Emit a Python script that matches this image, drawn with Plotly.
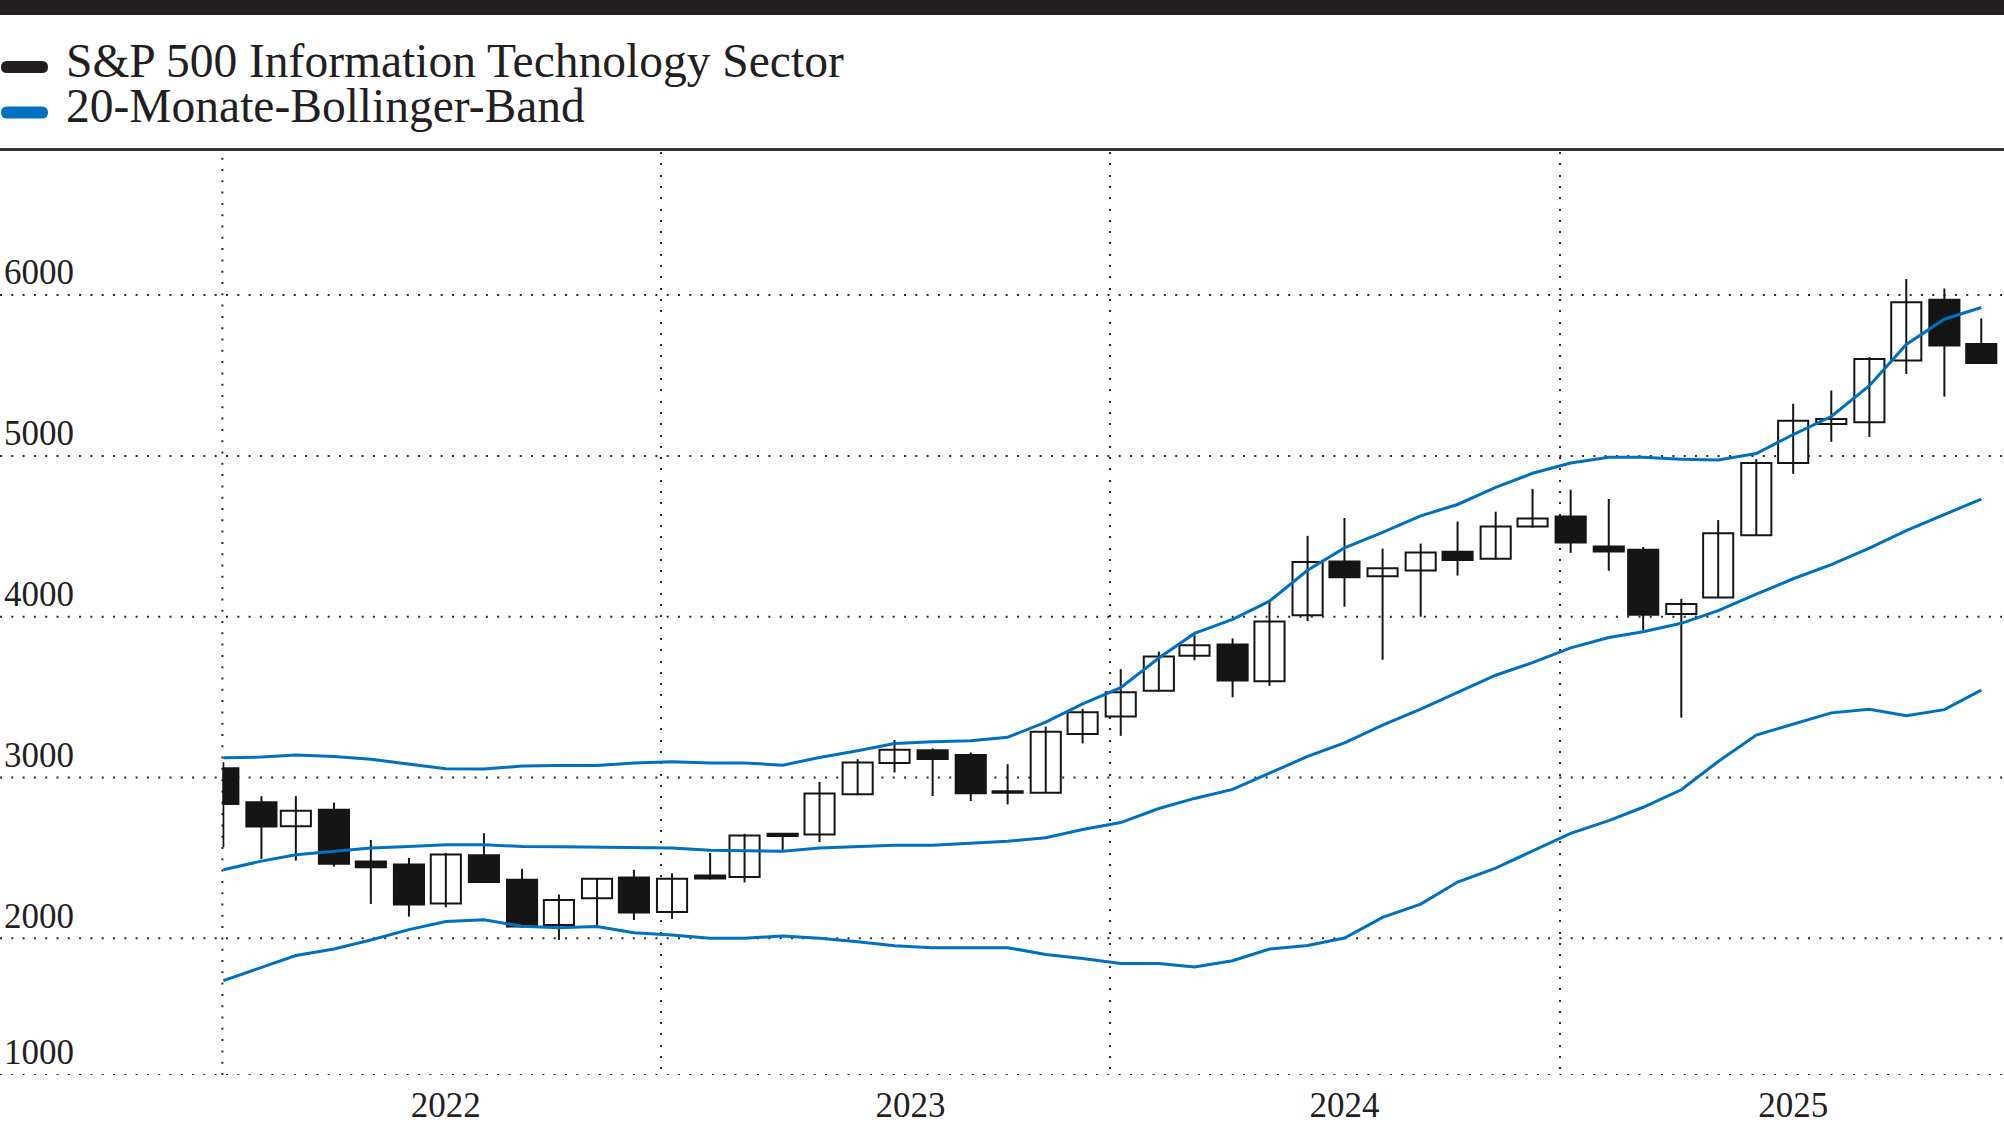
import plotly.graph_objects as go

# ---------------- data ----------------
months = [f"{y}-{m:02d}-01" for y in range(2022, 2026) for m in range(1, 13)]

open_ = [3058, 2846, 2697, 2799, 2477, 2459, 2216, 2517, 2365, 2083, 2249, 2378,
         2164, 2390, 2381, 2650, 2646, 2896, 3090, 3169, 3140, 2906, 2906, 3271,
         3379, 3539, 3758, 3827, 3599, 4009, 4344, 4252, 4287, 4404, 4360, 4561,
         4624, 4437, 4417, 4017, 4120, 4507, 4956, 5198, 5209, 5593, 5971, 5696]
high = [3095, 2884, 2884, 2844, 2612, 2500, 2531, 2653, 2432, 2272, 2374, 2426,
        2404, 2531, 2650, 2652, 2973, 3114, 3233, 3181, 3156, 3083, 3317, 3427,
        3674, 3783, 3885, 3865, 4091, 4503, 4614, 4424, 4455, 4592, 4653, 4795,
        4790, 4732, 4434, 4111, 4601, 4980, 5324, 5407, 5614, 6100, 6041, 5855]
low = [2566, 2494, 2483, 2446, 2214, 2135, 2193, 2348, 2066, 1990, 2079, 2114,
       2121, 2366, 2348, 2542, 2598, 2890, 3031, 2885, 2854, 2833, 2904, 3212,
       3259, 3535, 3729, 3499, 3570, 3973, 4062, 3732, 4000, 4256, 4356, 4554,
       4397, 4286, 3915, 3372, 4118, 4505, 4889, 5088, 5118, 5510, 5369, 5575]
close = [2836, 2695, 2793, 2463, 2442, 2210, 2521, 2351, 2073, 2239, 2371, 2160,
         2371, 2372, 2640, 2636, 2900, 3094, 3173, 3115, 2902, 2914, 3285, 3406,
         3530, 3752, 3823, 3603, 3971, 4340, 4245, 4302, 4400, 4353, 4561, 4611,
         4461, 4405, 4012, 4079, 4519, 4956, 5218, 5230, 5602, 5956, 5687, 5578]

band_upper = [3123, 3127, 3140, 3131, 3113, 3082, 3055, 3053, 3071, 3074, 3074, 3091,
              3098, 3090, 3090, 3077, 3125, 3167, 3212, 3223, 3229, 3250, 3344, 3458,
              3559, 3743, 3896, 3984, 4097, 4289, 4428, 4525, 4627, 4698, 4804, 4892,
              4956, 4991, 4991, 4980, 4974, 5015, 5133, 5245, 5437, 5693, 5850, 5923]
band_middle = [2426, 2480, 2519, 2540, 2561, 2571, 2582, 2582, 2571, 2569, 2567, 2563,
               2562, 2548, 2546, 2542, 2562, 2573, 2579, 2579, 2594, 2604, 2625, 2677,
               2720, 2807, 2870, 2926, 3027, 3131, 3215, 3326, 3426, 3530, 3636, 3714,
               3806, 3871, 3906, 3959, 4038, 4140, 4236, 4324, 4426, 4536, 4636, 4732]
band_lower = [1737, 1820, 1893, 1934, 1990, 2054, 2104, 2115, 2075, 2065, 2073, 2034,
              2021, 2000, 2000, 2015, 2000, 1979, 1954, 1942, 1942, 1942, 1900, 1875,
              1843, 1843, 1821, 1861, 1933, 1955, 2002, 2130, 2213, 2350, 2437, 2545,
              2653, 2732, 2815, 2924, 3100, 3264, 3334, 3402, 3425, 3384, 3422, 3543]

y_tick_vals = [1150, 2000, 3000, 4000, 5000, 6000]
y_tick_text = ["1000", "2000", "3000", "4000", "5000", "6000"]
year_tick_vals = ["2022-07-01", "2023-07-14", "2024-07-01", "2025-07-01"]
year_tick_text = ["2022", "2023", "2024", "2025"]
year_grid_vals = ["2022-12-23", "2023-12-23", "2024-12-23"]
legend_labels = ["S&P 500 Information Technology Sector", "20-Monate-Bollinger-Band"]

# ---------------- styling / layout constants ----------------
W, H = 2004, 1131
MT, MB = 152, 56
PH = H - MT - MB
PLOT_LEFT = 222.4
FONT = "Liberation Serif"
TXT = "#231f20"
BLUE = "#0070C0"
DARK = "#151515"
DOTS = "2px,9.3px"
DAY_MS = 86400000


def px_x(px):
    return px / W


def px_y(py):
    return (H - MB - py) / PH


def capsule(x0, x1, cy, r):
    pts = lambda x, y: f"{px_x(x)},{px_y(y)}"
    return (f"M{pts(x0 + r, cy - r)} L{pts(x1 - r, cy - r)} "
            f"Q{pts(x1, cy - r)} {pts(x1, cy)} Q{pts(x1, cy + r)} {pts(x1 - r, cy + r)} "
            f"L{pts(x0 + r, cy + r)} Q{pts(x0, cy + r)} {pts(x0, cy)} "
            f"Q{pts(x0, cy - r)} {pts(x0 + r, cy - r)} Z")


# ---------------- traces ----------------
wick_x, wick_y = [], []
for m, lo, hi in zip(months, low, high):
    wick_x += [m, m, None]
    wick_y += [lo, hi, None]

body_base = [min(o, c) for o, c in zip(open_, close)]
body_h = [abs(c - o) for o, c in zip(open_, close)]
body_col = [DARK if c < o else "white" for o, c in zip(open_, close)]

fig = go.Figure()
fig.add_trace(go.Scatter(x=wick_x, y=wick_y, mode="lines",
                         line=dict(color=DARK, width=2), hoverinfo="skip",
                         showlegend=False))
fig.add_trace(go.Bar(x=months, y=body_h, base=body_base,
                     width=[24.5 * DAY_MS] * len(months),
                     marker=dict(color=body_col, line=dict(color=DARK, width=2)),
                     hoverinfo="skip", showlegend=False))
for band in (band_upper, band_middle, band_lower):
    fig.add_trace(go.Scatter(x=months, y=band, mode="lines",
                             line=dict(color=BLUE, width=3), hoverinfo="skip",
                             showlegend=False))

# ---------------- shapes ----------------
shapes = []
# top dark bar
shapes.append(dict(type="rect", xref="paper", yref="paper", x0=0, x1=1,
                   y0=px_y(15), y1=px_y(0), fillcolor=TXT, line=dict(width=0)))
# rule under legend
shapes.append(dict(type="line", xref="paper", yref="paper", x0=0, x1=1,
                   y0=px_y(149.5), y1=px_y(149.5), line=dict(color="#333333", width=3)))
# horizontal dotted gridlines across the whole width
for v in y_tick_vals:
    shapes.append(dict(type="line", xref="paper", yref="y", x0=0, x1=1, y0=v, y1=v,
                       line=dict(color="#2a2a2a", width=2, dash=DOTS), layer="below"))
# left border of the candle area
shapes.append(dict(type="line", xref="x domain", yref="y domain", x0=0, x1=0, y0=0, y1=1,
                   line=dict(color="#2a2a2a", width=2, dash=DOTS), layer="below"))
# legend swatches
shapes.append(dict(type="path", xref="paper", yref="paper", path=capsule(1, 48, 67, 6),
                   fillcolor=TXT, line=dict(width=0)))
shapes.append(dict(type="path", xref="paper", yref="paper", path=capsule(1, 48, 112.5, 6),
                   fillcolor=BLUE, line=dict(width=0)))

annotations = []
for label, cy in zip(legend_labels, (61.4, 105.8)):
    annotations.append(dict(text=label, xref="paper", yref="paper", x=px_x(64), y=px_y(cy),
                            xanchor="left", yanchor="middle", showarrow=False,
                            font=dict(family=FONT, size=47.5, color=TXT)))

fig.update_layout(
    width=W, height=H,
    margin=dict(l=0, r=0, t=MT, b=MB),
    paper_bgcolor="white", plot_bgcolor="white",
    showlegend=False,
    shapes=shapes, annotations=annotations,
    xaxis=dict(type="date", domain=[PLOT_LEFT / W, 1],
               range=["2021-12-31 06:00", "2025-12-19 12:00"],
               tickmode="array", tickvals=year_tick_vals, ticktext=year_tick_text,
               showgrid=False, zeroline=False, showline=False, ticks="",
               ticklabelstandoff=6,
               tickfont=dict(family=FONT, size=35, color=TXT),
               minor=dict(tickmode="array", tickvals=year_grid_vals, showgrid=True,
                          gridcolor="#2a2a2a", gridwidth=2, griddash=DOTS, ticks="")),
    yaxis=dict(range=[1150, 6890], anchor="free", position=0,
               tickmode="array", tickvals=y_tick_vals, ticktext=y_tick_text,
               ticklabelposition="inside", ticklabelshift=-23, ticklabeloverflow="allow",
               showgrid=False, zeroline=False, showline=False, ticks="",
               tickfont=dict(family=FONT, size=35, color=TXT)),
)

fig.write_html("out.html")
